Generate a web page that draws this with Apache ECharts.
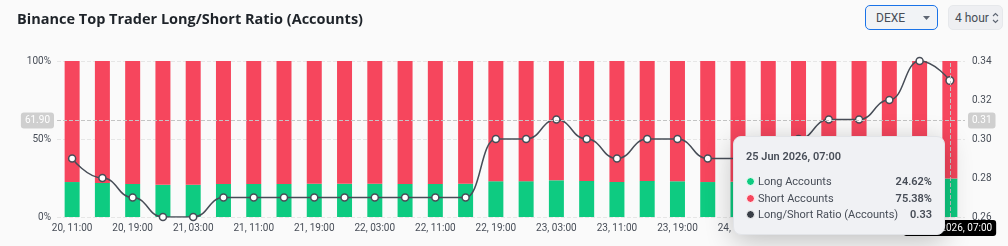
<!DOCTYPE html>
<html>
<head>
<meta charset="utf-8">
<script src="https://cdn.jsdelivr.net/npm/echarts@6/dist/echarts.min.js"></script>
<style>
  html,body{margin:0;padding:0;background:#fafafa;width:1008px;height:246px;overflow:hidden;font-family:"Noto Sans",Roboto,sans-serif;}
  #chart{position:absolute;left:0;top:0;width:1008px;height:246px;}
  .ctl{position:absolute;top:5px;height:25px;box-sizing:border-box;border-radius:5px;font-family:Roboto,"Noto Sans",sans-serif;font-size:12px;color:#474d57;display:flex;align-items:center;}
  #sym{left:865px;width:73px;border:1.5px solid #1a73e8;background:#f1f3f6;padding-left:10px;}
  #per{left:948px;width:55px;background:#eeeff2;border:1px solid #e6e8eb;padding-left:6px;}
</style>
</head>
<body>
<div id="chart"></div>
<div class="ctl" id="sym">DEXE<svg style="position:absolute;left:57px;top:10px" width="7" height="4"><path d="M0 0 L7 0 L3.5 4 Z" fill="#5e6673"/></svg></div>
<div class="ctl" id="per">4 hour<svg style="position:absolute;left:43px;top:6px" width="7" height="12"><path d="M1 4 L3.5 1.5 L6 4 M1 8 L3.5 10.5 L6 8" stroke="#5e6673" stroke-width="1.1" fill="none"/></svg></div>
<script>
const categories = ["20, 11:00","20, 15:00","20, 19:00","20, 23:00","21, 03:00","21, 07:00","21, 11:00","21, 15:00","21, 19:00","21, 23:00",
  "22, 03:00","22, 07:00","22, 11:00","22, 15:00","22, 19:00","22, 23:00","23, 03:00","23, 07:00","23, 11:00","23, 15:00",
  "23, 19:00","23, 23:00","24, 03:00","24, 07:00","24, 11:00","24, 15:00","24, 19:00","24, 23:00","25, 03:00","25, 07:00"];
const longAccounts = [22.41,21.83,21.19,20.62,20.65,21.21,21.23,21.18,21.30,21.27,21.32,21.20,21.16,21.34,22.92,22.95,23.52,23.10,22.44,23.08,22.90,22.41,22.53,22.60,23.12,23.63,23.70,24.18,25.39,24.62];
const shortAccounts = [77.59,78.17,78.81,79.38,79.35,78.79,78.77,78.82,78.70,78.73,78.68,78.80,78.84,78.66,77.08,77.05,76.48,76.90,77.56,76.92,77.10,77.59,77.47,77.40,76.88,76.37,76.30,75.82,74.61,75.38];
const ratio = [0.29,0.28,0.27,0.26,0.26,0.27,0.27,0.27,0.27,0.27,0.27,0.27,0.27,0.27,0.30,0.30,0.31,0.30,0.29,0.30,0.30,0.29,0.29,0.29,0.30,0.31,0.31,0.32,0.34,0.33];
const leftTicks = [0, 50, 100];
const rightTicks = [0.26, 0.28, 0.30, 0.32, 0.34];
const monthYear = "Jun 2026";

const GREEN = '#0ecb81', RED = '#f6465d', DARK = '#474d57';
function fullDate(cat){ const p = cat.split(', '); return p[0] + ' ' + monthYear + ', ' + p[1]; }

const chart = echarts.init(document.getElementById('chart'), null, {renderer:'canvas'});
const axisFont = {fontFamily:'Roboto, sans-serif', fontSize:10, color:'#474d57'};
const ptrLabel = {backgroundColor:'#cfcfcf', color:'#fff', fontFamily:'Roboto, sans-serif', fontSize:10, padding:[3,4,3,4], borderRadius:3,
  formatter:function(p){ return Number(p.value).toFixed(2); }};
chart.setOption({
  animation:false,
  title:{text:'Binance Top Trader Long/Short Ratio (Accounts)', left:12, top:7,
    textStyle:{fontFamily:'"Open Sans", sans-serif', fontSize:14.5, fontWeight:'bold', color:'#1e2329'}},
  grid:{left:57, right:43, top:61, bottom:29, containLabel:false},
  tooltip:{
    trigger:'axis', alwaysShowContent:true, transitionDuration:0, confine:false,
    axisPointer:{type:'cross', crossStyle:{color:'#c4c4c4', type:'dashed', width:1}, lineStyle:{color:'#c4c4c4', type:'dashed'}},
    position:function(){ return [733, 136]; },
    backgroundColor:'#f0f1f4', borderColor:'#e2e4e8', borderWidth:1, padding:[12,12,10,12],
    extraCssText:'width:212px;box-sizing:border-box;border-radius:8px;box-shadow:0 6px 28px rgba(0,0,0,0.24);',
    formatter:function(params){
      const i = params[0].dataIndex;
      const row = (c, n, v) => '<div style="display:flex;justify-content:space-between;line-height:16.7px;font-size:11px;color:#474d57">' +
        '<span><span style="display:inline-block;width:9px;height:9px;border-radius:50%;background:'+c+';margin-right:3px;border:1px solid #fff;box-sizing:border-box;vertical-align:-1px"></span>'+n+'</span>' +
        '<span style="font-weight:600">'+v+'</span></div>';
      return '<div style="font-family:Roboto,sans-serif">' +
        '<div style="font-size:11px;font-weight:600;color:#474d57;margin:0 0 10px 0;line-height:15px">'+fullDate(categories[i])+'</div>' +
        row(GREEN, 'Long Accounts', longAccounts[i].toFixed(2)+'%') +
        row(RED, 'Short Accounts', shortAccounts[i].toFixed(2)+'%') +
        row('#3a3f47', 'Long/Short Ratio (Accounts)', ratio[i].toFixed(2)) + '</div>';
    }
  },
  xAxis:{type:'category', data:categories, boundaryGap:true,
    axisLine:{show:false}, axisTick:{show:false},
    axisLabel:Object.assign({interval:1, margin:6}, axisFont),
    axisPointer:{label:{backgroundColor:'#000', color:'#fff', fontFamily:'Roboto, sans-serif', fontSize:10, padding:[3,4,3,4], margin:3,
      formatter:function(p){ return fullDate(p.value); }}}
  },
  yAxis:[
    {type:'value', min:leftTicks[0], max:leftTicks[leftTicks.length-1], interval:50,
      axisLine:{show:false}, axisTick:{show:false},
      splitLine:{lineStyle:{color:'#e6e6e6', type:'dashed'}},
      axisLabel:Object.assign({formatter:'{value}%', margin:6}, axisFont),
      axisPointer:{label:ptrLabel}
    },
    {type:'value', min:rightTicks[0], max:rightTicks[rightTicks.length-1], interval:0.02, position:'right',
      axisLine:{show:false}, axisTick:{show:false}, splitLine:{show:false},
      axisLabel:Object.assign({formatter:function(v){return v.toFixed(2);}, margin:7}, axisFont),
      axisPointer:{label:ptrLabel}
    }
  ],
  series:[
    {name:'Long Accounts', type:'bar', stack:'acc', data:longAccounts, barWidth:15, itemStyle:{color:GREEN}, emphasis:{disabled:true}},
    {name:'Short Accounts', type:'bar', stack:'acc', data:shortAccounts, barWidth:15, itemStyle:{color:RED}, emphasis:{disabled:true}},
    {name:'Long/Short Ratio (Accounts)', type:'line', yAxisIndex:1, data:ratio, smooth:0.5, smoothMonotone:'x',
      symbol:'circle', symbolSize:7, showAllSymbol:true,
      lineStyle:{color:DARK, width:1.5}, itemStyle:{color:'#fff', borderColor:DARK, borderWidth:1.5}, emphasis:{disabled:true}}
  ]
});
const px = chart.convertToPixel({xAxisIndex:0}, categories.length-1);
const py = chart.convertToPixel({yAxisIndex:0}, 61.9);
chart.dispatchAction({type:'showTip', x:px, y:py});
</script>
</body>
</html>
